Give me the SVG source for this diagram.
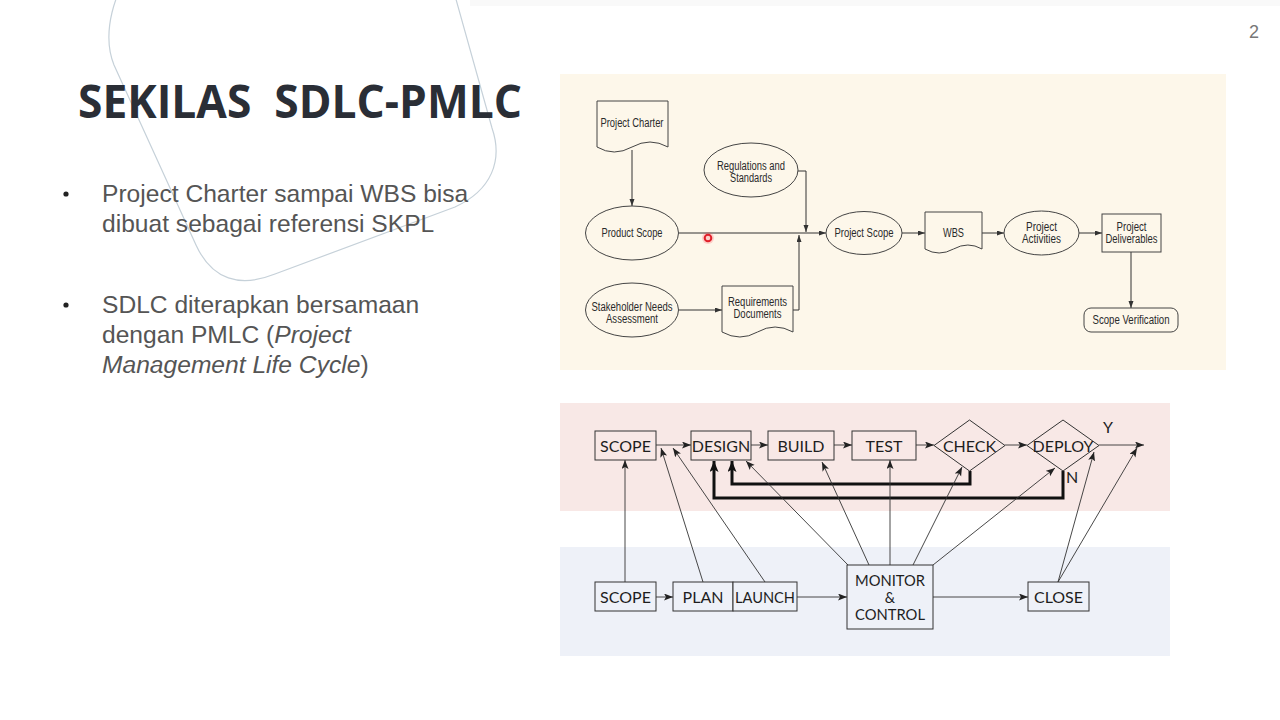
<svg xmlns="http://www.w3.org/2000/svg" width="1280" height="720" viewBox="0 0 1280 720">
<defs>
<style>
.t1{font-family:"Liberation Sans",Arial,sans-serif;font-size:12px;fill:#2a2a2a;text-anchor:middle}
.ln1{fill:none;stroke:#333;stroke-width:1}
.sh1{fill:#fdf7ea;stroke:#444;stroke-width:1}
.t2{font-family:Lato,"Open Sans",sans-serif;font-size:16px;fill:#1e1e1e;text-anchor:middle}
.t3{font-family:Lato,"Open Sans",sans-serif;font-size:14.5px;fill:#1e1e1e;text-anchor:middle}
.sh2a{fill:#f8e8e6;stroke:#333;stroke-width:1}
.sh2b{fill:#eef1f8;stroke:#333;stroke-width:1}
.ln2{fill:none;stroke:#333;stroke-width:0.9}
.ln3{fill:none;stroke:#111;stroke-width:3}
.bul{font-family:"Liberation Sans",Arial,sans-serif;font-size:24.6px;fill:#555}
</style>
<marker id="a1" markerUnits="userSpaceOnUse" markerWidth="8" markerHeight="6" refX="7" refY="2.5" orient="auto"><path d="M0,0 L7,2.5 L0,5 Z" fill="#333"/></marker>
<marker id="a2" markerUnits="userSpaceOnUse" markerWidth="10" markerHeight="8" refX="9" refY="3.5" orient="auto"><path d="M0,0 L9,3.5 L0,7 L2,3.5 Z" fill="#222"/></marker>
<marker id="a3" markerUnits="userSpaceOnUse" markerWidth="12" markerHeight="10" refX="11" refY="4.5" orient="auto"><path d="M0,0 L11,4.5 L0,9 L2.5,4.5 Z" fill="#111"/></marker>
</defs>
<rect width="1280" height="720" fill="#ffffff"/>
<rect x="470" y="0" width="810" height="6" fill="#f9f9f9"/>
<path d="M140,-40 C112,-10 102,35 114,65 L196,245 C212,280 240,288 275,274 L455,207 C492,190 503,160 492,128 L445,-40 Z" fill="none" stroke="#c6d1d9" stroke-width="1.2"/>
<text x="1254" y="38" font-family="'Liberation Sans',Arial,sans-serif" font-size="18" fill="#777" text-anchor="middle">2</text>
<text x="78" y="118" font-family="'Open Sans','Noto Sans',sans-serif" font-weight="bold" font-size="47" fill="#2a2e36" textLength="444" lengthAdjust="spacingAndGlyphs" xml:space="preserve">SEKILAS  SDLC-PMLC</text>
<g id="bullets">
<circle cx="66" cy="194" r="2.6" fill="#222"/>
<text class="bul" x="102" y="202">Project Charter sampai WBS bisa</text>
<text class="bul" x="102" y="232">dibuat sebagai referensi SKPL</text>
<circle cx="66" cy="305" r="2.6" fill="#222"/>
<text class="bul" x="102" y="313">SDLC diterapkan bersamaan</text>
<text class="bul" x="102" y="343">dengan PMLC (<tspan font-style="italic">Project</tspan></text>
<text class="bul" x="102" y="373"><tspan font-style="italic">Management Life Cycle</tspan>)</text>
</g>
<rect x="560" y="74" width="666" height="296" fill="#fdf7ea"/>
<rect x="560" y="403" width="610" height="108" fill="#f8e8e6"/>
<rect x="560" y="547" width="610" height="109" fill="#eef1f8"/>
<g id="connectors-top">
<line class="ln1" x1="632" y1="150" x2="632" y2="206" marker-end="url(#a1)"/>
<line class="ln1" x1="679" y1="233" x2="826" y2="233" marker-end="url(#a1)"/>
<polyline class="ln1" points="798,171 806,171 806,232" marker-end="url(#a1)"/>
<polyline class="ln1" points="793,310 799,310 799,235" marker-end="url(#a1)"/>
<line class="ln1" x1="679" y1="310" x2="722" y2="310" marker-end="url(#a1)"/>
<line class="ln1" x1="902" y1="233" x2="925" y2="233" marker-end="url(#a1)"/>
<line class="ln1" x1="982" y1="233" x2="1004" y2="233" marker-end="url(#a1)"/>
<line class="ln1" x1="1079" y1="233" x2="1102" y2="233" marker-end="url(#a1)"/>
<line class="ln1" x1="1131" y1="252" x2="1131" y2="308" marker-end="url(#a1)"/>
</g>
<g id="project-charter"><path class="sh1" d="M597,101 H668 V147 Q650,137 632,147 Q614,157 597,147 Z"/><text class="t1" x="632" y="127" textLength="63" lengthAdjust="spacingAndGlyphs">Project Charter</text></g>
<g id="regulations"><ellipse class="sh1" cx="751" cy="170" rx="47" ry="27"/><text class="t1" x="751" y="170" textLength="68" lengthAdjust="spacingAndGlyphs">Regulations and</text><text class="t1" x="751" y="181.5" textLength="42" lengthAdjust="spacingAndGlyphs">Standards</text></g>
<g id="product-scope"><ellipse class="sh1" cx="632" cy="233" rx="46.5" ry="27"/><text class="t1" x="632" y="237" textLength="61" lengthAdjust="spacingAndGlyphs">Product Scope</text></g>
<g id="stakeholder"><ellipse class="sh1" cx="632" cy="310" rx="46.5" ry="27"/><text class="t1" x="632" y="311" textLength="81" lengthAdjust="spacingAndGlyphs">Stakeholder Needs</text><text class="t1" x="632" y="322.5" textLength="52" lengthAdjust="spacingAndGlyphs">Assessment</text></g>
<g id="requirements"><path class="sh1" d="M722,286 H793 V332 Q775,322 757.5,332 Q740,342 722,332 Z"/><text class="t1" x="757.5" y="306" textLength="59" lengthAdjust="spacingAndGlyphs">Requirements</text><text class="t1" x="757.5" y="317.5" textLength="48" lengthAdjust="spacingAndGlyphs">Documents</text></g>
<g id="project-scope"><ellipse class="sh1" cx="864" cy="233" rx="38" ry="21.5"/><text class="t1" x="864" y="237" textLength="59" lengthAdjust="spacingAndGlyphs">Project Scope</text></g>
<g id="wbs"><path class="sh1" d="M925,212 H982 V249 Q968,241 953.5,249 Q939,257 925,249 Z"/><text class="t1" x="953.5" y="237" textLength="21" lengthAdjust="spacingAndGlyphs">WBS</text></g>
<g id="project-activities"><ellipse class="sh1" cx="1041.5" cy="233" rx="37.5" ry="22"/><text class="t1" x="1041.5" y="231" textLength="31" lengthAdjust="spacingAndGlyphs">Project</text><text class="t1" x="1041.5" y="242.5" textLength="39" lengthAdjust="spacingAndGlyphs">Activities</text></g>
<g id="project-deliverables"><rect class="sh1" x="1102" y="214" width="59" height="38"/><text class="t1" x="1131.5" y="231" textLength="30" lengthAdjust="spacingAndGlyphs">Project</text><text class="t1" x="1131.5" y="242.5" textLength="52" lengthAdjust="spacingAndGlyphs">Deliverables</text></g>
<g id="scope-verification"><rect class="sh1" x="1084" y="308" width="94" height="24" rx="7"/><text class="t1" x="1131" y="324" textLength="77" lengthAdjust="spacingAndGlyphs">Scope Verification</text></g>
<circle cx="708" cy="238" r="6" fill="#ff3040" fill-opacity="0.2"/>
<circle cx="708" cy="238" r="3.3" fill="none" stroke="#e0202a" stroke-width="2"/>
<g id="connectors-bottom">
<line class="ln2" x1="656" y1="445" x2="691" y2="445" marker-end="url(#a2)"/>
<line class="ln2" x1="751" y1="445" x2="768" y2="445" marker-end="url(#a2)"/>
<line class="ln2" x1="834" y1="445" x2="852" y2="445" marker-end="url(#a2)"/>
<line class="ln2" x1="916" y1="445" x2="934" y2="445" marker-end="url(#a2)"/>
<line class="ln2" x1="1005" y1="445" x2="1027" y2="445" marker-end="url(#a2)"/>
<line class="ln2" x1="1099" y1="445" x2="1144" y2="445" marker-end="url(#a2)"/>
<polyline class="ln3" points="970,471 970,484 732,484 732,461" marker-end="url(#a3)"/>
<polyline class="ln3" points="1063,471 1063,498 714,498 714,461" marker-end="url(#a3)"/>
<line class="ln2" x1="656" y1="597" x2="673" y2="597" marker-end="url(#a2)"/>
<line class="ln2" x1="797" y1="597" x2="847" y2="597" marker-end="url(#a2)"/>
<line class="ln2" x1="933" y1="597" x2="1028" y2="597" marker-end="url(#a2)"/>
<line class="ln2" x1="625" y1="582" x2="625" y2="460" marker-end="url(#a2)"/>
<line class="ln2" x1="703" y1="582" x2="661" y2="448" marker-end="url(#a2)"/>
<line class="ln2" x1="765" y1="582" x2="673" y2="448" marker-end="url(#a2)"/>
<line class="ln2" x1="848" y1="565" x2="746" y2="461" marker-end="url(#a2)"/>
<line class="ln2" x1="869" y1="565" x2="822" y2="462" marker-end="url(#a2)"/>
<line class="ln2" x1="890" y1="565" x2="890" y2="460" marker-end="url(#a2)"/>
<line class="ln2" x1="913" y1="565" x2="962" y2="467" marker-end="url(#a2)"/>
<line class="ln2" x1="933" y1="565" x2="1055" y2="468" marker-end="url(#a2)"/>
<line class="ln2" x1="1058" y1="582" x2="1094" y2="452" marker-end="url(#a2)"/>
<line class="ln2" x1="1058" y1="582" x2="1137" y2="448" marker-end="url(#a2)"/>
</g>
<g id="sdlc-scope"><rect class="sh2a" x="595" y="431" width="61" height="29"/><text class="t2" x="625.5" y="451.5">SCOPE</text></g>
<g id="design"><rect class="sh2a" x="691" y="431" width="60" height="29"/><text class="t2" x="721" y="451.5">DESIGN</text></g>
<g id="build"><rect class="sh2a" x="768" y="431" width="66" height="29"/><text class="t2" x="801" y="451.5">BUILD</text></g>
<g id="test"><rect class="sh2a" x="852" y="431" width="64" height="29"/><text class="t2" x="884" y="451.5">TEST</text></g>
<g id="check"><path class="sh2a" d="M934,445.5 L969.5,420 L1005,445.5 L969.5,471 Z"/><text class="t2" x="969.5" y="451.5">CHECK</text></g>
<g id="deploy"><path class="sh2a" d="M1027,445.5 L1063,420 L1099,445.5 L1063,471 Z"/><text class="t2" x="1063" y="451.5">DEPLOY</text></g>
<text class="t2" x="1108" y="433" font-size="14">Y</text>
<text class="t2" x="1072" y="483" font-size="14">N</text>
<g id="pmlc-scope"><rect class="sh2b" x="595" y="582" width="61" height="29"/><text class="t2" x="625.5" y="603">SCOPE</text></g>
<g id="plan"><rect class="sh2b" x="673" y="582" width="60" height="29"/><text class="t2" x="703" y="603">PLAN</text></g>
<g id="launch"><rect class="sh2b" x="733" y="582" width="64" height="29"/><text class="t2" x="765" y="603" textLength="60" lengthAdjust="spacingAndGlyphs">LAUNCH</text></g>
<g id="monitor-control"><rect class="sh2b" x="847" y="565" width="86" height="64"/><text class="t3" x="890" y="586" textLength="70" lengthAdjust="spacingAndGlyphs">MONITOR</text><text class="t3" x="890" y="603">&amp;</text><text class="t3" x="890" y="620" textLength="70" lengthAdjust="spacingAndGlyphs">CONTROL</text></g>
<g id="close"><rect class="sh2b" x="1028" y="582" width="61" height="29"/><text class="t2" x="1058.5" y="603">CLOSE</text></g>
</svg>
